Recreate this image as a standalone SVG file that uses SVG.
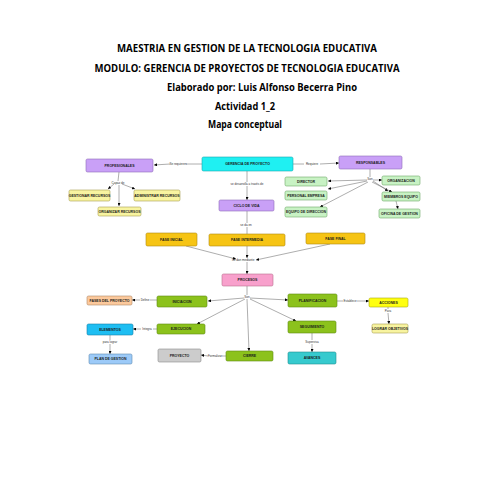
<svg xmlns="http://www.w3.org/2000/svg" width="495" height="495" viewBox="0 0 495 495">
<defs>
<marker id="ah" viewBox="0 0 6 6" refX="6" refY="3" markerWidth="3" markerHeight="3" orient="auto" markerUnits="userSpaceOnUse"><path d="M0,0 L6,3 L0,6 Z" fill="#000"/></marker>
<style>
.t{font-family:"Open Sans","Liberation Sans",Arial,sans-serif;font-weight:bold;fill:#000;text-anchor:middle}
.n rect{stroke-width:0.6}
.n text{font-family:"Liberation Sans",Arial,sans-serif;font-weight:bold;font-size:3.5px;fill:#1a1a1a;text-anchor:middle;dominant-baseline:central}
.lb{font-family:"Liberation Sans",Arial,sans-serif;font-size:3px;fill:#333;text-anchor:middle;dominant-baseline:central}
.c line,.c polyline{stroke:#6a6a6a;stroke-width:0.55;fill:none}
.a{marker-end:url(#ah)}
.vio{fill:#c9a0f7;stroke:#8e6bb8}
.cya{fill:#1ff0f2;stroke:#1aa8b0}
.ylp{fill:#f8f4a0;stroke:#a8a050}
.grp{fill:#c8f2c4;stroke:#6fa86a}
.gold{fill:#f6c414;stroke:#b08a10}
.pink{fill:#f8a0cc;stroke:#b8708e}
.grn{fill:#8cc21c;stroke:#5e8a12}
.pch{fill:#fcc99c;stroke:#b08a6a}
.blu{fill:#1ebef2;stroke:#1680a8}
.lbl{fill:#9ccaf8;stroke:#5e8ab0}
.gry{fill:#cccccc;stroke:#8a8a8a}
.tea{fill:#36cace;stroke:#1e8e90}
.yel{fill:#ffff10;stroke:#a8a810}
</style>
</defs>
<rect width="495" height="495" fill="#fff"/>
<g id="title">
<text class="t" x="247" y="52" font-size="10" textLength="260" lengthAdjust="spacingAndGlyphs">MAESTRIA EN GESTION DE LA TECNOLOGIA  EDUCATIVA</text>
<text class="t" x="247" y="72" font-size="10" textLength="305" lengthAdjust="spacingAndGlyphs">MODULO: GERENCIA DE PROYECTOS DE TECNOLOGIA EDUCATIVA</text>
<text class="t" x="262" y="91" font-size="10" textLength="190" lengthAdjust="spacingAndGlyphs">Elaborado por: Luis Alfonso Becerra Pino</text>
<text class="t" x="245" y="110" font-size="10" textLength="60" lengthAdjust="spacingAndGlyphs">Actividad 1_2</text>
<text class="t" x="245" y="128" font-size="10" textLength="74" lengthAdjust="spacingAndGlyphs">Mapa conceptual</text>
</g>
<g id="connectors" class="c">
<line x1="202" y1="164" x2="186" y2="164"/><line class="a" x1="170" y1="164" x2="154" y2="165"/>
<line x1="293" y1="164" x2="304" y2="164"/><line class="a" x1="320" y1="164" x2="339" y2="163"/>
<line x1="119" y1="172" x2="118" y2="181"/>
<line class="a" x1="114" y1="184" x2="108" y2="189"/>
<line class="a" x1="122" y1="184" x2="135" y2="189"/>
<line class="a" x1="119" y1="185" x2="119" y2="206"/>
<line x1="247" y1="171" x2="247" y2="182"/><line class="a" x1="247" y1="186" x2="247" y2="200"/>
<line x1="247" y1="211" x2="247" y2="223"/><line x1="247" y1="227" x2="247" y2="234"/>
<line class="a" x1="247" y1="246" x2="247" y2="258"/>
<line class="a" x1="186" y1="246" x2="236" y2="259"/>
<line class="a" x1="330" y1="244" x2="256" y2="260"/>
<line class="a" x1="247" y1="262" x2="247" y2="274"/>
<line x1="370" y1="169" x2="370" y2="177"/>
<line class="a" x1="367" y1="180" x2="328" y2="181"/>
<line class="a" x1="367" y1="181" x2="328" y2="189"/>
<line class="a" x1="368" y1="182" x2="320" y2="207"/>
<line class="a" x1="373" y1="180" x2="382" y2="180"/>
<line class="a" x1="373" y1="181" x2="388" y2="191"/>
<line class="a" x1="372" y1="182" x2="392" y2="192"/>
<line class="a" x1="396" y1="201" x2="398" y2="209"/>
<line x1="247" y1="286" x2="247" y2="295"/>
<line class="a" x1="244" y1="298" x2="208" y2="301"/>
<line class="a" x1="250" y1="298" x2="288" y2="300"/>
<line class="a" x1="245" y1="299" x2="197" y2="324"/>
<line class="a" x1="250" y1="299" x2="296" y2="321"/>
<line class="a" x1="247" y1="299" x2="249" y2="351"/>
<line x1="157" y1="300" x2="150" y2="300"/><line class="a" x1="140" y1="300" x2="132" y2="300"/>
<line x1="337" y1="301" x2="343" y2="301"/><line class="a" x1="357" y1="301" x2="369" y2="301"/>
<line x1="388" y1="307" x2="388" y2="309"/><line class="a" x1="388" y1="313" x2="389" y2="324"/>
<line x1="157" y1="329" x2="153" y2="329"/><line class="a" x1="141" y1="329" x2="133" y2="329"/>
<line x1="110" y1="335" x2="110" y2="340"/><line class="a" x1="110" y1="344" x2="110" y2="354"/>
<line x1="312" y1="333" x2="312" y2="340"/><line class="a" x1="312" y1="344" x2="312" y2="352"/>
<line x1="226" y1="356" x2="222" y2="356"/><line class="a" x1="208" y1="356" x2="201" y2="355"/>
</g>
<g id="labels">
<text class="lb" x="178" y="164">Se requieren</text>
<text class="lb" x="312" y="164">Requiere</text>
<text class="lb" x="118" y="183">Capaz de</text>
<text class="lb" x="247" y="184">se desarrolla a través de</text>
<text class="lb" x="246" y="225">se da en</text>
<text class="lb" x="243" y="260">Se dan mediante</text>
<text class="lb" x="370" y="179">Son</text>
<text class="lb" x="247" y="297">Son</text>
<text class="lb" x="145" y="300">Define</text>
<text class="lb" x="350" y="301">Establece</text>
<text class="lb" x="388" y="311">Para</text>
<text class="lb" x="147" y="329">Integra</text>
<text class="lb" x="110" y="342">para lograr</text>
<text class="lb" x="312" y="342">Supervisa</text>
<text class="lb" x="215" y="356">Formalizar</text>
</g>
<g id="n-profesionales" class="n"><rect class="vio" x="86" y="159" width="67" height="13" rx="1.5"/><text x="119.5" y="165.5">PROFESIONALES</text></g>
<g id="n-gerencia" class="n"><rect class="cya" x="202" y="157" width="91" height="14" rx="1.5"/><text x="247.5" y="164" font-size="4px">GERENCIA DE PROYECTO</text></g>
<g id="n-responsables" class="n"><rect class="vio" x="339" y="156" width="63" height="13" rx="1.5"/><text x="370.5" y="162.5">RESPONSABLES</text></g>
<g id="n-gestionar" class="n"><rect class="ylp" x="69" y="190" width="41" height="11" rx="1.5"/><text x="89.5" y="195.5" font-size="3px">GESTIONAR RECURSOS</text></g>
<g id="n-administrar" class="n"><rect class="ylp" x="134" y="190" width="46" height="11" rx="1.5"/><text x="157" y="195.5" font-size="3px">ADMINISTRAR RECURSOS</text></g>
<g id="n-organizar" class="n"><rect class="ylp" x="98" y="207" width="43" height="9" rx="1.5"/><text x="119.5" y="211.5" font-size="3px">ORGANIZAR RECURSOS</text></g>
<g id="n-ciclo" class="n"><rect class="vio" x="219" y="200" width="55" height="11" rx="1.5"/><text x="246.5" y="205.5">CICLO DE VIDA</text></g>
<g id="n-director" class="n"><rect class="grp" x="285" y="177" width="42" height="9" rx="1.5"/><text x="306" y="181.5" font-size="3px">DIRECTOR</text></g>
<g id="n-personal" class="n"><rect class="grp" x="285" y="191" width="42" height="9" rx="1.5"/><text x="306" y="195.5" font-size="3px">PERSONAL EMPRESA</text></g>
<g id="n-equipo" class="n"><rect class="grp" x="285" y="207" width="42" height="10" rx="1.5"/><text x="306" y="212" font-size="3px">EQUIPO DE DIRECCION</text></g>
<g id="n-organizacion" class="n"><rect class="grp" x="382" y="176" width="38" height="9" rx="1.5"/><text x="401" y="180.5" font-size="3px">ORGANIZACION</text></g>
<g id="n-miembros" class="n"><rect class="grp" x="382" y="192" width="38" height="9" rx="1.5"/><text x="401" y="196.5" font-size="3px">MIEMBROS EQUIPO</text></g>
<g id="n-oficina" class="n"><rect class="grp" x="379" y="209" width="41" height="9" rx="1.5"/><text x="399.5" y="213.5" font-size="3px">OFICINA DE GESTION</text></g>
<g id="n-fase-inicial" class="n"><rect class="gold" x="146" y="233" width="51" height="13" rx="1.5"/><text x="171.5" y="239.5">FASE INICIAL</text></g>
<g id="n-fase-intermedia" class="n"><rect class="gold" x="209" y="234" width="76" height="12" rx="1.5"/><text x="247" y="240">FASE INTERMEDIA</text></g>
<g id="n-fase-final" class="n"><rect class="gold" x="306" y="233" width="59" height="11" rx="1.5"/><text x="335.5" y="238.5">FASE FINAL</text></g>
<g id="n-procesos" class="n"><rect class="pink" x="222" y="274" width="51" height="12" rx="1.5"/><text x="247.5" y="280">PROCESOS</text></g>
<g id="n-fases-proyecto" class="n"><rect class="pch" x="87" y="296" width="45" height="9" rx="1.5"/><text x="109.5" y="300.5" font-size="3px">FASES DEL PROYECTO</text></g>
<g id="n-iniciacion" class="n"><rect class="grn" x="157" y="296" width="50" height="11" rx="1.5"/><text x="182" y="301.5" font-size="3px">INICIACION</text></g>
<g id="n-planificacion" class="n"><rect class="grn" x="288" y="294" width="49" height="13" rx="1.5"/><text x="312.5" y="300.5" font-size="3px">PLANIFICACION</text></g>
<g id="n-acciones" class="n"><rect class="yel" x="369" y="298" width="39" height="9" rx="1.5"/><text x="388.5" y="302.5" font-size="3px">ACCIONES</text></g>
<g id="n-lograr" class="n"><rect class="ylp" x="372" y="324" width="36" height="9" rx="1.5"/><text x="390" y="328.5" font-size="3px">LOGRAR OBJETIVOS</text></g>
<g id="n-seguimiento" class="n"><rect class="grn" x="288" y="321" width="48" height="12" rx="1.5"/><text x="312" y="327" font-size="3px">SEGUIMIENTO</text></g>
<g id="n-avances" class="n"><rect class="tea" x="288" y="352" width="48" height="12" rx="1.5"/><text x="312" y="358" font-size="3px">AVANCES</text></g>
<g id="n-ejecucion" class="n"><rect class="grn" x="157" y="324" width="48" height="10" rx="1.5"/><text x="181" y="329" font-size="3px">EJECUCION</text></g>
<g id="n-elementos" class="n"><rect class="blu" x="87" y="324" width="46" height="11" rx="1.5"/><text x="110" y="329.5" font-size="3px">ELEMENTOS</text></g>
<g id="n-plan" class="n"><rect class="lbl" x="89" y="354" width="43" height="10" rx="1.5"/><text x="110.5" y="359" font-size="3px">PLAN DE GESTION</text></g>
<g id="n-cierre" class="n"><rect class="grn" x="226" y="351" width="47" height="10" rx="1.5"/><text x="249.5" y="356" font-size="3px">CIERRE</text></g>
<g id="n-proyecto" class="n"><rect class="gry" x="158" y="349" width="43" height="13" rx="1.5"/><text x="179.5" y="355.5" font-size="3px">PROYECTO</text></g>
</svg>
